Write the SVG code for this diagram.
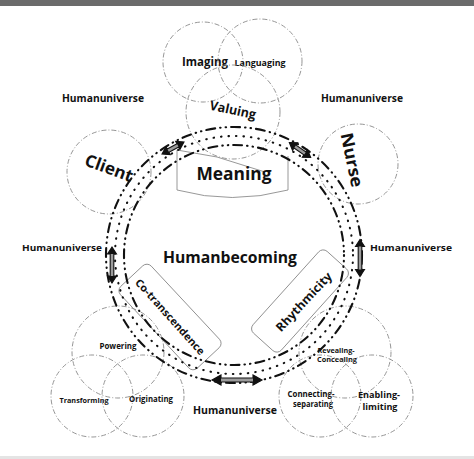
<svg xmlns="http://www.w3.org/2000/svg" width="474" height="459" viewBox="0 0 474 459">
<style>
.c{fill:none;stroke:#8a8a8a;stroke-width:0.9;stroke-dasharray:5 2 1 2}
.b{fill:none;stroke:#8c8c8c;stroke-width:0.9}
.t{font-family:"Open Sans","Noto Sans",sans-serif;font-weight:bold;fill:#111;text-anchor:middle}
.r{fill:none;stroke:#111;stroke-width:2.1;stroke-linecap:round}
.a{fill:#9c9c9c;stroke:#111;stroke-width:1.1;stroke-linejoin:miter}
.h{fill:#111}
</style>
<rect x="0" y="0" width="474" height="459" fill="#fff"/>
<rect x="0" y="0" width="474" height="6" fill="#6b6b6b"/>
<rect x="0" y="456" width="474" height="3" fill="#e4e4e4"/>

<g id="imaging"><circle class="c" cx="203" cy="62" r="40"/><text class="t" x="205" y="66" font-size="12" textLength="46" lengthAdjust="spacingAndGlyphs">Imaging</text></g>
<g id="languaging"><circle class="c" cx="260" cy="61" r="42"/><text class="t" x="260" y="66" font-size="9" textLength="51" lengthAdjust="spacingAndGlyphs">Languaging</text></g>
<g id="valuing"><circle class="c" cx="233" cy="112" r="47"/><text class="t" transform="translate(233,110) rotate(12)" x="0" y="4.5" font-size="13" textLength="47" lengthAdjust="spacingAndGlyphs">Valuing</text></g>
<g id="client"><circle class="c" cx="109" cy="172" r="42"/><text class="t" transform="translate(109,168) rotate(20)" x="0" y="6" font-size="17" textLength="50" lengthAdjust="spacingAndGlyphs">Client</text></g>
<g id="nurse"><circle class="c" cx="358" cy="164" r="40"/><text class="t" transform="translate(352,160) rotate(78)" x="0" y="6" font-size="17" textLength="55" lengthAdjust="spacingAndGlyphs">Nurse</text></g>
<g id="meaning"><path class="b" d="M177,150 L177,190 Q232,205 288,190 L288,156 M177,150 L217,157 L265,172"/><text class="t" x="234" y="180" font-size="18" textLength="75" lengthAdjust="spacingAndGlyphs">Meaning</text></g>
<g id="humanbecoming"><text class="t" x="230" y="263" font-size="16" textLength="134" lengthAdjust="spacingAndGlyphs">Humanbecoming</text></g>
<g id="cotranscendence"><rect class="b" x="-56" y="-21" width="112" height="42" rx="6" transform="translate(170,317) rotate(47)"/><text class="t" transform="translate(170,317) rotate(48)" x="0" y="3.5" font-size="10.5" textLength="98" lengthAdjust="spacingAndGlyphs">Co-transcendence</text></g>
<g id="rhythmicity"><rect class="b" x="-55" y="-19" width="110" height="38" rx="6" transform="translate(300,301) rotate(-48)"/><text class="t" transform="translate(304,302) rotate(-47)" x="0" y="4" font-size="12" textLength="76" lengthAdjust="spacingAndGlyphs">Rhythmicity</text></g>
<g id="powering"><circle class="c" cx="118" cy="352" r="46"/><text class="t" x="118" y="349" font-size="8" textLength="37" lengthAdjust="spacingAndGlyphs">Powering</text></g>
<g id="transforming"><circle class="c" cx="92" cy="396" r="41"/><text class="t" x="84" y="403" font-size="7.5" textLength="49" lengthAdjust="spacingAndGlyphs">Transforming</text></g>
<g id="originating"><circle class="c" cx="143" cy="396" r="41"/><text class="t" x="151" y="402" font-size="8" textLength="44" lengthAdjust="spacingAndGlyphs">Originating</text></g>
<g id="revealing"><circle class="c" cx="345" cy="352" r="46"/><text class="t" x="336" y="352.5" font-size="7.5" textLength="37" lengthAdjust="spacingAndGlyphs">Revealing-</text><text class="t" x="337" y="362" font-size="7.5" textLength="40" lengthAdjust="spacingAndGlyphs">Concealing</text></g>
<g id="connecting"><circle class="c" cx="320" cy="396" r="41"/><text class="t" x="311" y="396.5" font-size="8.5" textLength="47" lengthAdjust="spacingAndGlyphs">Connecting-</text><text class="t" x="313" y="407" font-size="8.5" textLength="40" lengthAdjust="spacingAndGlyphs">separating</text></g>
<g id="enabling"><circle class="c" cx="372" cy="396" r="41"/><text class="t" x="379" y="398" font-size="9.5" textLength="42" lengthAdjust="spacingAndGlyphs">Enabling-</text><text class="t" x="380" y="409.5" font-size="9.5" textLength="35" lengthAdjust="spacingAndGlyphs">limiting</text></g>
<g id="hu-tl"><text class="t" x="103" y="102" font-size="10.5" textLength="82" lengthAdjust="spacingAndGlyphs">Humanuniverse</text></g>
<g id="hu-tr"><text class="t" x="362" y="102" font-size="10.5" textLength="82" lengthAdjust="spacingAndGlyphs">Humanuniverse</text></g>
<g id="hu-l"><text class="t" x="62" y="251" font-size="9.5" textLength="80" lengthAdjust="spacingAndGlyphs">Humanuniverse</text></g>
<g id="hu-r"><text class="t" x="411" y="251" font-size="9.5" textLength="82" lengthAdjust="spacingAndGlyphs">Humanuniverse</text></g>
<g id="hu-b"><text class="t" x="235" y="414" font-size="11" textLength="84" lengthAdjust="spacingAndGlyphs">Humanuniverse</text></g>

<g id="connectors">
<circle class="r" cx="234" cy="255" r="128" stroke-dasharray="9 5 0.5 5 0.5 5"/>
<circle class="r" cx="234" cy="255" r="119" stroke-dasharray="0.5 7"/>
<circle class="r" cx="234" cy="255" r="110" stroke-dasharray="9 5 0.5 5 0.5 5" stroke-dashoffset="8"/>
<g transform="translate(173,148) rotate(-28.6)"><polygon class="a" points="-12.5,0 -5.5,-4.5 -5.5,-1.8 5.5,-1.8 5.5,-4.5 12.5,0 5.5,4.5 5.5,1.8 -5.5,1.8 -5.5,4.5"/><polygon class="h" points="-12.5,0 -5.5,-4.5 -5.5,4.5"/><polygon class="h" points="12.5,0 5.5,-4.5 5.5,4.5"/></g>
<g transform="translate(300,150) rotate(35)"><polygon class="a" points="-13,0 -6,-4.5 -6,-1.8 6,-1.8 6,-4.5 13,0 6,4.5 6,1.8 -6,1.8 -6,4.5"/><polygon class="h" points="-13,0 -6,-4.5 -6,4.5"/><polygon class="h" points="13,0 6,-4.5 6,4.5"/></g>
<g transform="translate(112,265) rotate(90)"><polygon class="a" points="-18,0 -11,-4.5 -11,-1.8 11,-1.8 11,-4.5 18,0 11,4.5 11,1.8 -11,1.8 -11,4.5"/><polygon class="h" points="-18,0 -11,-4.5 -11,4.5"/><polygon class="h" points="18,0 11,-4.5 11,4.5"/></g>
<g transform="translate(360,258) rotate(90)"><polygon class="a" points="-18.5,0 -11.5,-4.5 -11.5,-1.8 11.5,-1.8 11.5,-4.5 18.5,0 11.5,4.5 11.5,1.8 -11.5,1.8 -11.5,4.5"/><polygon class="h" points="-18.5,0 -11.5,-4.5 -11.5,4.5"/><polygon class="h" points="18.5,0 11.5,-4.5 11.5,4.5"/></g>
<g transform="translate(237,380)"><polygon class="a" points="-25,0 -16,-5 -16,-2 16,-2 16,-5 25,0 16,5 16,2 -16,2 -16,5"/><polygon class="h" points="-25,0 -16,-5 -16,5"/><polygon class="h" points="25,0 16,-5 16,5"/></g>
</g>
</svg>
